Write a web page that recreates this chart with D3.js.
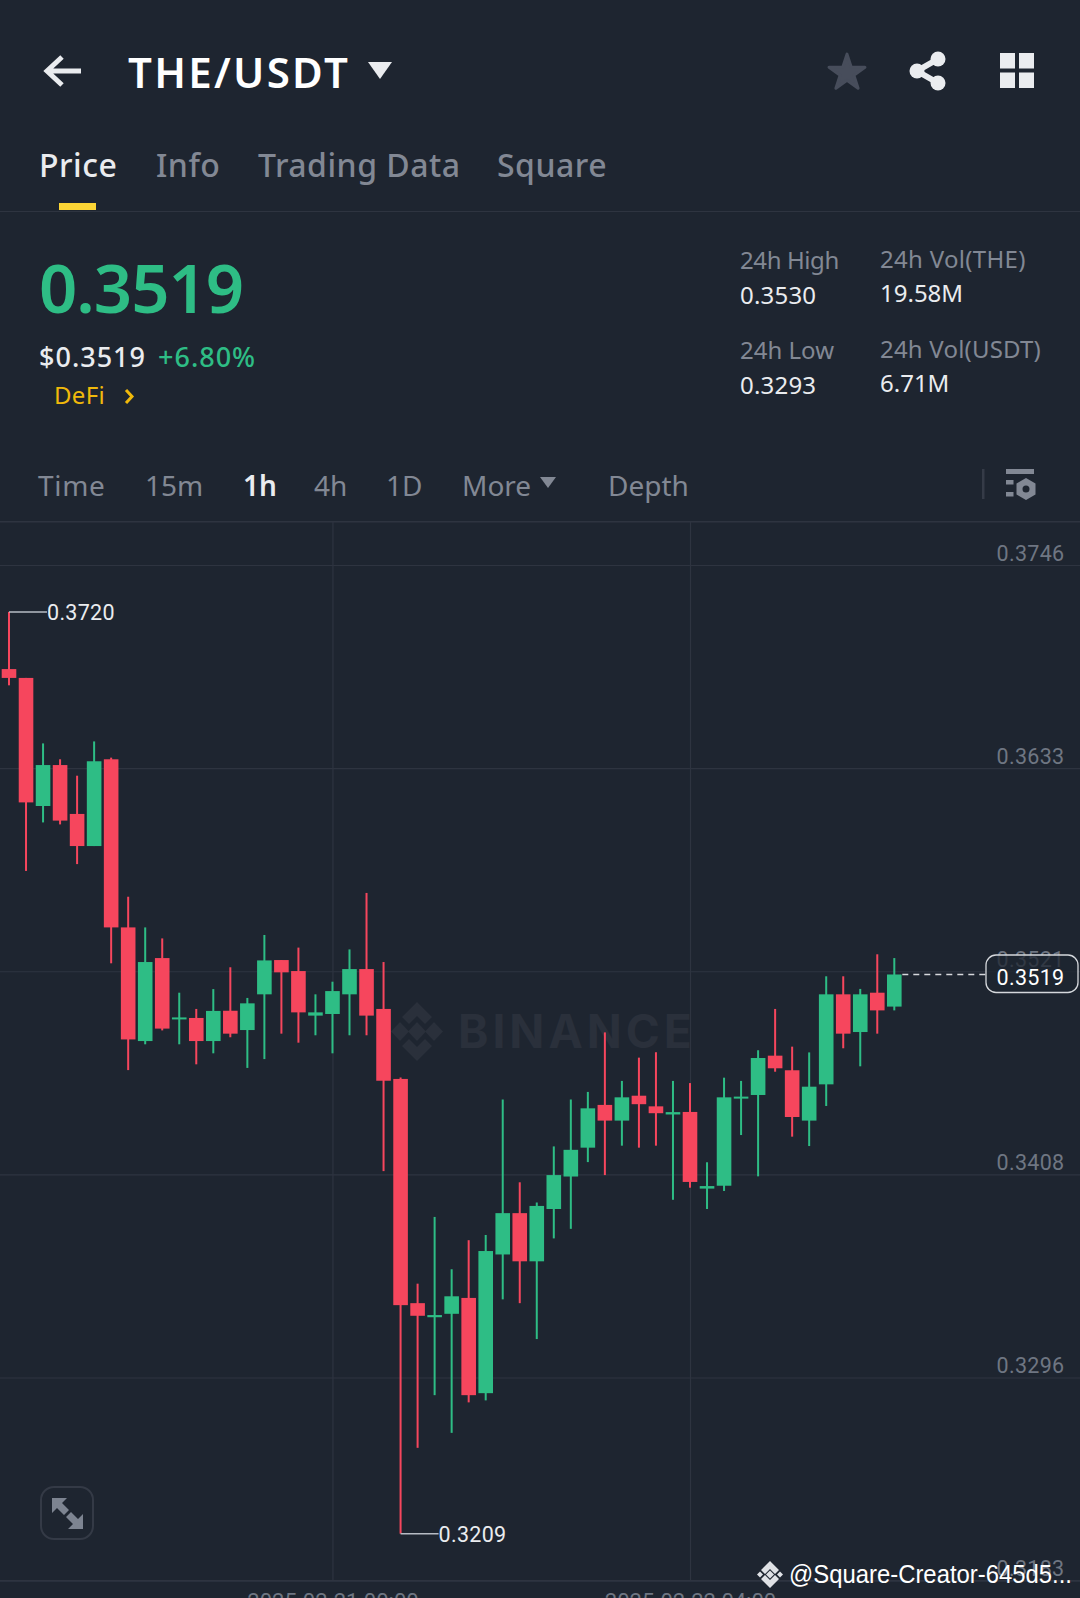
<!DOCTYPE html>
<html>
<head>
<meta charset="utf-8">
<title>THE/USDT</title>
<script src="https://cdn.jsdelivr.net/npm/d3@7"></script>
<style>
	html, body { margin: 0; padding: 0; background: #1e2530; overflow: hidden; }
	svg { display: block; }
	text { font-family: "Noto Sans", sans-serif; }
	.num text, text.num { font-family: Roboto, sans-serif; }
</style>
</head>
<body>
<svg id="chart" width="1080" height="1598"></svg>
<script>
// candle values, one entry per hour
var opens = [0.36883,0.36834,0.36124,0.36351,0.36080,0.35902,0.36383,0.35451,0.34821,0.35281,0.34941,0.34949,0.34821,0.34989,0.34882,0.35080,0.35270,0.35209,0.34962,0.34971,0.35080,0.35220,0.34999,0.34611,0.33368,0.33290,0.33309,0.33397,0.32869,0.33638,0.33867,0.33600,0.33890,0.34070,0.34230,0.34467,0.34380,0.34518,0.34459,0.34414,0.34428,0.34003,0.34019,0.34502,0.34522,0.34740,0.34659,0.34380,0.34581,0.35080,0.34871,0.35089,0.35012];
var highs = [0.37200,0.36834,0.36471,0.36383,0.36292,0.36482,0.36392,0.35621,0.35451,0.35390,0.35089,0.34999,0.35109,0.35230,0.35060,0.35409,0.35270,0.35339,0.35080,0.35150,0.35329,0.35642,0.35259,0.34619,0.33476,0.33846,0.33556,0.33717,0.33746,0.34497,0.34038,0.33926,0.34237,0.34497,0.34539,0.34869,0.34600,0.34729,0.34759,0.34600,0.34588,0.34149,0.34618,0.34600,0.34770,0.34999,0.34790,0.34758,0.35180,0.35180,0.35110,0.35302,0.35281];
var lows = [0.36793,0.35764,0.36033,0.36022,0.35802,0.35902,0.35252,0.34660,0.34803,0.34880,0.34803,0.34692,0.34753,0.34842,0.34672,0.34721,0.34862,0.34812,0.34853,0.34753,0.34853,0.34853,0.34100,0.32090,0.32566,0.32858,0.32649,0.32818,0.32829,0.33389,0.33368,0.33169,0.33727,0.33780,0.34150,0.34078,0.34241,0.34230,0.34241,0.33941,0.34008,0.33890,0.33990,0.34300,0.34071,0.34651,0.34291,0.34239,0.34461,0.34781,0.34681,0.34862,0.34991];
var closes = [0.36834,0.36144,0.36351,0.36043,0.35902,0.36372,0.35451,0.34830,0.35259,0.34890,0.34952,0.34821,0.34988,0.34862,0.35030,0.35268,0.35202,0.34980,0.34980,0.35098,0.35220,0.34962,0.34601,0.33357,0.33298,0.33302,0.33406,0.32858,0.33657,0.33867,0.33600,0.33907,0.34078,0.34218,0.34448,0.34380,0.34509,0.34471,0.34421,0.34427,0.34040,0.34017,0.34509,0.34513,0.34727,0.34670,0.34400,0.34568,0.35080,0.34862,0.35080,0.34991,0.35190];

var priceTicks = [0.3746, 0.36334, 0.35208, 0.34082, 0.32956, 0.3183];
var timeTickIndex = [19, 40];
var timeTickLabels = ["2025-02-21 00:00", "2025-02-22 04:00"];
var lastPrice = 0.3519;
var highMark = { i: 0, v: 0.3720 };
var lowMark = { i: 23, v: 0.3209 };

var tabs = ["Price", "Info", "Trading Data", "Square"];
var tabX = [39, 156, 258, 497];
var intervals = ["Time", "15m", "1h", "4h", "1D", "More", "Depth"];
var intervalX = [38, 145, 243, 314, 386, 462, 608];

var BG = "#1e2530", GREEN = "#2ebd85", RED = "#f6465d", GRID = "#2e3440", MUTED = "#828894", WHITE = "#eaecef";

var svg = d3.select("#chart");
svg.append("rect").attr("width", 1080).attr("height", 1598).attr("fill", BG);

function label(str, x, y, size, color, weight, spacing) {
	return svg.append("text")
		.text(str)
		.attr("x", x)
		.attr("y", y)
		.attr("font-size", size)
		.attr("font-weight", weight || 400)
		.attr("letter-spacing", spacing || 0)
		.attr("fill", color);
}

// ---- header ----
svg.append("path")
	.attr("d", "M81 71H48M62 57L47 71L62 85")
	.attr("fill", "none").attr("stroke", WHITE).attr("stroke-width", 5);
label("THE/USDT", 128, 88, 42, "#ffffff", 600, 2.3);
svg.append("path").attr("d", "M368 62H392L380 79Z").attr("fill", WHITE);

svg.append("path")
	.attr("d", d3.symbol(d3.symbolStar, 400))
	.attr("transform", "translate(847,73)")
	.attr("fill", "#474d5b").attr("stroke", "#474d5b").attr("stroke-width", 3).attr("stroke-linejoin", "round");
svg.append("path")
	.attr("d", "M938 59L917 71L938 83")
	.attr("fill", "none").attr("stroke", WHITE).attr("stroke-width", 6);
[[938, 59], [917, 71], [938, 83]].forEach(function (c) {
	svg.append("circle").attr("cx", c[0]).attr("cy", c[1]).attr("r", 7.5).attr("fill", WHITE);
});
[[1000, 53], [1019, 53], [1000, 72.5], [1019, 72.5]].forEach(function (c) {
	svg.append("rect").attr("x", c[0]).attr("y", c[1]).attr("width", 15).attr("height", 15.5).attr("fill", WHITE);
});

tabs.forEach(function (t, i) {
	label(t, tabX[i], 177, 32, i == 0 ? WHITE : MUTED, 500, 0.5);
});
svg.append("rect").attr("x", 59).attr("y", 203).attr("width", 37).attr("height", 7).attr("fill", "#fcd535");
svg.append("rect").attr("x", 0).attr("y", 211).attr("width", 1080).attr("height", 1).attr("fill", GRID);

// ---- price block ----
label("0.3519", 39, 313, 67, GREEN, 600, -1);
label("$0.3519", 39, 367, 27, WHITE, 500, 1);
label("+6.80%", 158, 367, 27, GREEN, 500, 1);
label("DeFi", 54, 404, 24, "#f0b90b", 400, 0.3);
svg.append("path")
	.attr("d", "M126 390L132 396.5L126 403")
	.attr("fill", "none").attr("stroke", "#f0b90b").attr("stroke-width", 3);

label("24h High", 740, 269, 24, MUTED, 400, -0.4);
label("0.3530", 740, 304, 24, WHITE, 400, 0.2);
label("24h Vol(THE)", 880, 268, 24, MUTED, 400, 0.3);
label("19.58M", 880, 302, 24, WHITE);
label("24h Low", 740, 359, 24, MUTED);
label("0.3293", 740, 394, 24, WHITE, 400, 0.2);
label("24h Vol(USDT)", 880, 358, 24, MUTED, 400, 0.2);
label("6.71M", 880, 392, 24, WHITE);

// ---- interval row ----
intervals.forEach(function (t, i) {
	label(t, intervalX[i], 496, 28, t == "1h" ? WHITE : MUTED, t == "1h" ? 600 : 400, t == "Time" ? 0.7 : 0);
});
svg.append("path").attr("d", "M540 477H556L548 488Z").attr("fill", MUTED);
svg.append("rect").attr("x", 982).attr("y", 469).attr("width", 2.5).attr("height", 30).attr("fill", "#353b47");
svg.append("rect").attr("x", 1006).attr("y", 469).attr("width", 28).attr("height", 5).attr("fill", MUTED);
svg.append("rect").attr("x", 1006).attr("y", 480).attr("width", 7.5).attr("height", 4.5).attr("fill", MUTED);
svg.append("rect").attr("x", 1006).attr("y", 492).attr("width", 7.5).attr("height", 4.5).attr("fill", MUTED);
svg.append("path")
	.attr("d", "M1026 478L1035.5 483.5V494.5L1026 500L1016.5 494.5V483.5Z M1026 485.5A3.5 3.5 0 1 0 1026 492.5A3.5 3.5 0 1 0 1026 485.5Z")
	.attr("fill", MUTED).attr("fill-rule", "evenodd");
svg.append("rect").attr("x", 0).attr("y", 521).attr("width", 1080).attr("height", 1.5).attr("fill", GRID);

// ---- chart ----
var x = d3.scaleLinear().domain([0, opens.length - 1]).range([9, 894.3]);
var y = d3.scaleLinear().domain([0.3183, 0.3746]).range([1580.6, 565]);
var candles = d3.range(opens.length);
var bodyWidth = 14.6;

// BINANCE watermark sits below everything else
var wm = svg.append("g").attr("fill", "#2a303b");
wm.append("text").text("BINANCE")
	.attr("x", 458).attr("y", 1048).attr("font-size", 46).attr("font-weight", 700)
	.attr("style", "font-family: Inter, sans-serif").attr("letter-spacing", 4);
wm.append("path").attr("d", "M417 1002L432 1017L425 1024L417 1016L409 1024L402 1017Z");
wm.append("path").attr("d", "M417 1061L432 1046L425 1039L417 1047L409 1039L402 1046Z");
wm.append("path").attr("d", "M417 1022L426 1031.5L417 1041L408 1031.5Z");
wm.append("path").attr("d", "M400 1022L409 1031.5L400 1041L391 1031.5Z");
wm.append("path").attr("d", "M434 1022L443 1031.5L434 1041L425 1031.5Z");

var yAxis = d3.axisLeft(y)
	.tickValues(priceTicks)
	.tickFormat(d3.format(".4f"))
	.tickSize(1080);
var yG = svg.append("g").attr("class", "num").attr("transform", "translate(1080,0)").call(yAxis);
yG.select(".domain").remove();
yG.selectAll("line").attr("stroke", GRID).attr("stroke-width", 1.2);
yG.selectAll("text")
	.attr("x", -15.5).attr("dy", -5)
	.attr("font-size", 21.5).attr("letter-spacing", 0.3).attr("fill", "#6f7682")
	.style("font-family", "Roboto, sans-serif");

var xAxis = d3.axisTop(x)
	.tickValues(timeTickIndex)
	.tickFormat(function (d, i) { return timeTickLabels[i]; })
	.tickSize(1058.6);
var xG = svg.append("g").attr("class", "num").attr("transform", "translate(0,1580.6)").call(xAxis);
xG.select(".domain").remove();
xG.selectAll("line").attr("stroke", GRID).attr("stroke-width", 1.2);
xG.selectAll("text")
	.attr("y", 28).attr("dy", 0)
	.attr("font-size", 22).attr("fill", "#6f7682")
	.style("font-family", "Roboto, sans-serif");
svg.append("rect").attr("x", 0).attr("y", 1580).attr("width", 1080).attr("height", 1.2).attr("fill", GRID);

function candleColor(i) {
	return closes[i] >= opens[i] ? GREEN : RED;
}

svg.append("g").selectAll("rect").data(candles).enter().append("rect")
	.attr("x", function (i) { return x(i) - 1; })
	.attr("y", function (i) { return y(highs[i]); })
	.attr("width", 2)
	.attr("height", function (i) { return y(lows[i]) - y(highs[i]); })
	.attr("fill", candleColor);

svg.append("g").selectAll("rect").data(candles).enter().append("rect")
	.attr("x", function (i) { return x(i) - bodyWidth / 2; })
	.attr("y", function (i) { return y(Math.max(opens[i], closes[i])); })
	.attr("width", bodyWidth)
	.attr("height", function (i) { return Math.max(2, Math.abs(y(opens[i]) - y(closes[i]))); })
	.attr("fill", candleColor);

// high / low callouts
[highMark, lowMark].forEach(function (m) {
	svg.append("line")
		.attr("x1", x(m.i)).attr("x2", x(m.i) + 38)
		.attr("y1", y(m.v)).attr("y2", y(m.v))
		.attr("stroke", "#b7bcc4").attr("stroke-width", 1.5);
	svg.append("text").attr("class", "num")
		.text(d3.format(".4f")(m.v))
		.attr("x", x(m.i) + 38).attr("y", y(m.v) + 8.5)
		.attr("font-size", 21.5).attr("letter-spacing", 0.3).attr("fill", WHITE);
});

// last price tag
svg.append("line")
	.attr("x1", x(opens.length - 1) + 8).attr("x2", 986)
	.attr("y1", y(lastPrice)).attr("y2", y(lastPrice))
	.attr("stroke", "#d5d8dc").attr("stroke-width", 1.5).attr("stroke-dasharray", "6 5");
svg.append("rect")
	.attr("x", 986).attr("y", 955).attr("width", 92).attr("height", 37.5).attr("rx", 10)
	.attr("fill", BG).attr("fill-opacity", 0.75).attr("stroke", "#d5d8dc").attr("stroke-width", 1.3);
svg.append("text").attr("class", "num")
	.text(d3.format(".4f")(lastPrice))
	.attr("x", 1064.5).attr("y", 985).attr("text-anchor", "end")
	.attr("font-size", 21.5).attr("letter-spacing", 0.3).attr("fill", "#ffffff");

// expand button
svg.append("rect")
	.attr("x", 41).attr("y", 1487).attr("width", 52).attr("height", 52).attr("rx", 13)
	.attr("fill", "none").attr("stroke", "#343a46").attr("stroke-width", 2);
svg.append("path").attr("d", "M52 1498H67L62 1503L69 1510L64 1515L57 1508L52 1513Z").attr("fill", "#7d8491");
svg.append("path").attr("d", "M83 1529H68L73 1524L66 1517L71 1512L78 1519L83 1514Z").attr("fill", "#7d8491");

// square creator footer
var sq = svg.append("g").attr("fill", "#dfe1e5");
sq.append("path").attr("d", "M770 1561L779 1570L775 1574L770 1569L765 1574L761 1570Z");
sq.append("path").attr("d", "M770 1588L779 1579L775 1575L770 1580L765 1575L761 1579Z");
sq.append("path").attr("d", "M770 1570.5L774 1574.5L770 1578.5L766 1574.5Z");
sq.append("path").attr("d", "M760 1571.5L763 1574.5L760 1577.5L757 1574.5Z");
sq.append("path").attr("d", "M780 1571.5L783 1574.5L780 1577.5L777 1574.5Z");
svg.append("text")
	.text("@Square-Creator-645d5...")
	.attr("x", 789).attr("y", 1583)
	.attr("font-size", 26).attr("fill", "#ffffff")
	.attr("textLength", 283).attr("lengthAdjust", "spacingAndGlyphs")
	.style("font-family", "'Liberation Sans', sans-serif");
</script>
</body>
</html>
